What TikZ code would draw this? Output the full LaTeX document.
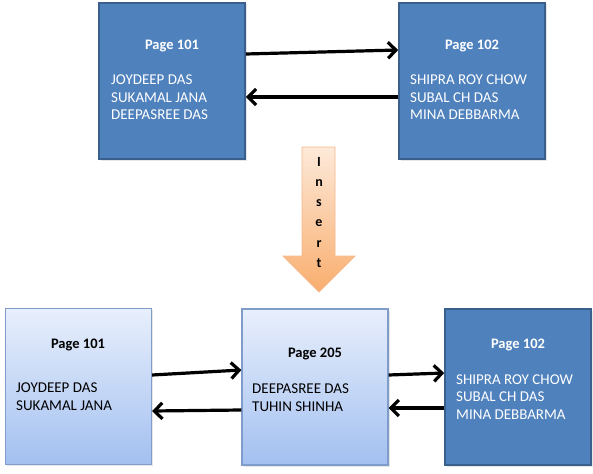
\documentclass[tikz,border=0pt]{standalone}
\usepackage{fontspec}
\setmainfont{Carlito}
\usetikzlibrary{arrows.meta,shadows}
\definecolor{dblue}{HTML}{4F81BD}
\definecolor{dborder}{HTML}{3A5F8C}
\definecolor{ltop}{HTML}{E8EFFC}
\definecolor{lbot}{HTML}{A3C0F0}
\definecolor{lborder}{HTML}{7F9CCB}
\definecolor{otop}{HTML}{FDE9D9}
\definecolor{obot}{HTML}{F9AE6E}
\definecolor{oborder}{HTML}{F6B88A}
\tikzset{
  darkbox/.style={draw=dborder, line width=1.6pt, fill=dblue, minimum width=146pt, minimum height=156pt, inner sep=0pt,
    drop shadow={shadow xshift=1.5pt, shadow yshift=-1.5pt, opacity=0.2}},
  lightbox/.style={draw=lborder, line width=1.2pt, top color=ltop, bottom color=lbot, minimum width=146pt, minimum height=156pt, inner sep=0pt,
    drop shadow={shadow xshift=1.5pt, shadow yshift=-1.5pt, opacity=0.2}},
  ttl/.style={font=\fontsize{14.5}{16}\selectfont\bfseries, inner sep=0pt, anchor=base},
  names/.style={font=\fontsize{15}{17.5}\selectfont, align=left, inner sep=0pt, anchor=base west},
  link/.style={line width=3.2pt, -{Straight Barb[length=8pt,width=16pt,line width=3.2pt]}},
}
\begin{document}
\begin{tikzpicture}[x=1pt,y=-1pt]
\useasboundingbox (0,0) rectangle (593,473);
% top row
\node[darkbox] (t1) at (172,81) {};
\node[darkbox] (t2) at (472,81) {};
\node[ttl, text=white] (t1t) at (172,50) {Page 101};
\node[names, text=white] (t1n) at (111,120) {JOYDEEP DAS\\SUKAMAL JANA\\DEEPASREE DAS};
\node[ttl, text=white] (t2t) at (472,50) {Page 102};
\node[names, text=white] (t2n) at (410,120) {SHIPRA ROY CHOW\\SUBAL CH DAS\\MINA DEBBARMA};
\coordinate (a1s) at (t1.east |- 0,54);
\coordinate (a1e) at (t2.west |- 0,50);
\draw[link] (a1s) -- (a1e);
\coordinate (a2s) at (t2.west |- 0,97);
\coordinate (a2e) at (t1.east |- 0,97);
\draw[link] (a2s) -- (a2e);
% insert arrow
\shade[top color=otop, bottom color=obot, draw=oborder, line width=0.8pt]
  (302,147) -- (335,147) -- (335,256) -- (355,256) -- (319,292) -- (283,256) -- (302,256) -- cycle;
\node[font=\fontsize{14}{20.2}\selectfont\bfseries, align=center, inner sep=0pt, anchor=north] (ins) at (319,157) {I\\n\\s\\e\\r\\t};
% bottom row
\node[lightbox] (b1) at (78.5,386.5) {};
\node[lightbox] (b2) at (315,387) {};
\node[darkbox] (b3) at (518,387) {};
\node[ttl] (b1t) at (78,348) {Page 101};
\node[names] (b1n) at (16,410) {JOYDEEP DAS\\SUKAMAL JANA};
\node[ttl] (b2t) at (315,357) {Page 205};
\node[names] (b2n) at (252,411) {DEEPASREE DAS\\TUHIN SHINHA};
\node[ttl, text=white] (b3t) at (518,348) {Page 102};
\node[names, text=white] (b3n) at (456,419) {SHIPRA ROY CHOW\\SUBAL CH DAS\\MINA DEBBARMA};
\coordinate (c1s) at (b1.east |- 0,375);
\coordinate (c1e) at (b2.west |- 0,370);
\draw[link] (c1s) -- (c1e);
\coordinate (c2s) at (b2.west |- 0,410);
\coordinate (c2e) at (b1.east |- 0,411);
\draw[link] (c2s) -- (c2e);
\coordinate (c3s) at (b2.east |- 0,375);
\coordinate (c3e) at (b3.west |- 0,373);
\draw[link] (c3s) -- (c3e);
\coordinate (c4s) at (b3.west |- 0,408);
\coordinate (c4e) at (b2.east |- 0,408);
\draw[link] (c4s) -- (c4e);
\end{tikzpicture}
\end{document}
